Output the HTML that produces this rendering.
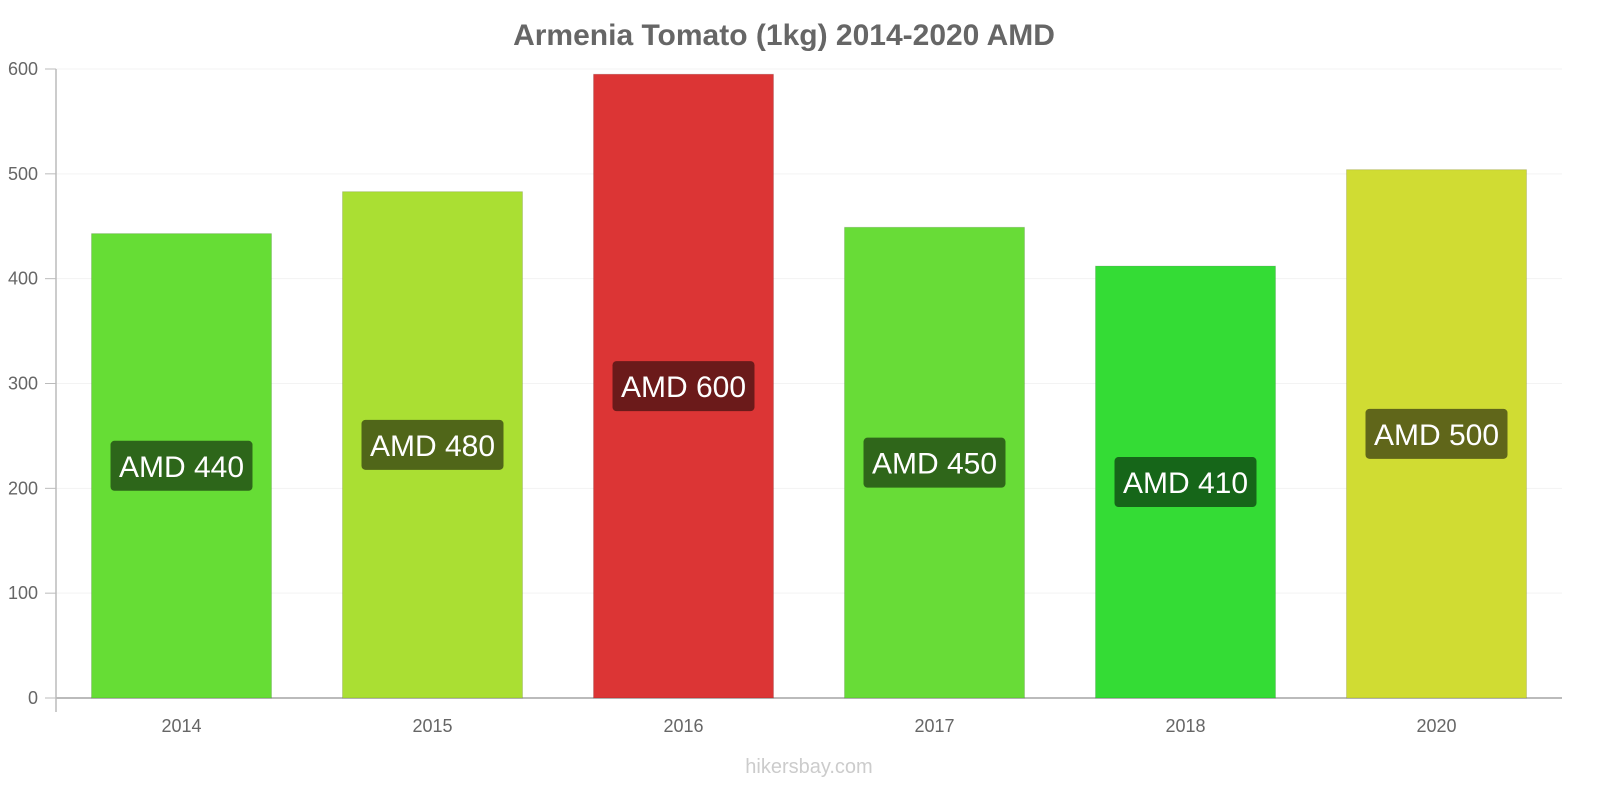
<!DOCTYPE html>
<html><head><meta charset="utf-8"><style>
body{margin:0;background:#fff;font-family:"Liberation Sans",sans-serif;}
svg{display:block}
</style></head><body>
<svg id="chart" width="1600" height="800">
<text x="784" y="45" text-anchor="middle" font-size="30" font-weight="bold" fill="#666">Armenia Tomato (1kg) 2014-2020 AMD</text>
<g id="grid"></g><g id="bars"></g><g id="labels"></g>
<text x="809" y="773" text-anchor="middle" font-size="20" fill="#ccc">hikersbay.com</text>
</svg>
<script>
const categories=["2014","2015","2016","2017","2018","2020"];
const values=[443,483,595,449,412,504];
const valueLabels=["AMD 440","AMD 480","AMD 600","AMD 450","AMD 410","AMD 500"];
const yTicks=[0,100,200,300,400,500,600];
const fills=["#66dd35","#aadf33","#dc3535","#68dc37","#34dc35","#d0dc33"];
const labelBg=["#2d661a","#506619","#6b1a1a","#2f661a","#166619","#60661a"];
const NS="http://www.w3.org/2000/svg";
const x0=56,x1=1562,y0=698,yTop=69,yMax=600;
const Y=v=>y0-(v/yMax)*(y0-yTop);
const bw=(x1-x0)/categories.length;
const X=i=>x0+bw*(i+0.5);
function mk(tag,attrs,parent){const e=document.createElementNS(NS,tag);for(const k in attrs)e.setAttribute(k,attrs[k]);parent.appendChild(e);return e;}
const g=document.getElementById('grid'),b=document.getElementById('bars'),l=document.getElementById('labels');
yTicks.forEach(t=>{
 const ln=mk('line',{x1:x0,x2:x1,y1:Y(t),y2:Y(t),stroke:t===0?'#bbb':'#f3f3f3','stroke-width':t===0?2:1},g);
 
 
 mk('line',{x1:45,x2:x0,y1:Y(t),y2:Y(t),stroke:'#bbb'},g);
 const tx=mk('text',{x:38,y:Y(t)+6,'text-anchor':'end','font-size':18,fill:'#666'},g);
 tx.textContent=t;
 
 
});
const ax=mk('line',{x1:x0,x2:x0,y1:yTop,y2:712,stroke:'#bbb','stroke-width':1.5},g);


categories.forEach((c,i)=>{
 const cx=X(i),top=Y(values[i]);
 const r=mk('rect',{x:cx-90,y:top,width:180,height:y0-top,fill:fills[i],stroke:'rgba(0,0,0,0.12)'},b);
 
 
 const tx=mk('text',{x:cx,y:732,'text-anchor':'middle','font-size':18,fill:'#666'},b);
 tx.textContent=c;
 
 
 const my=(top+y0)/2;
 const bg=mk('rect',{x:cx-71,y:my-25,width:142,height:50,rx:4,fill:labelBg[i]},l);
 
 
 const vt=mk('text',{x:cx,y:my+11,'text-anchor':'middle','font-size':30,fill:'#fff'},l);
 vt.textContent=valueLabels[i];
 
 
});
</script>
</body></html>
